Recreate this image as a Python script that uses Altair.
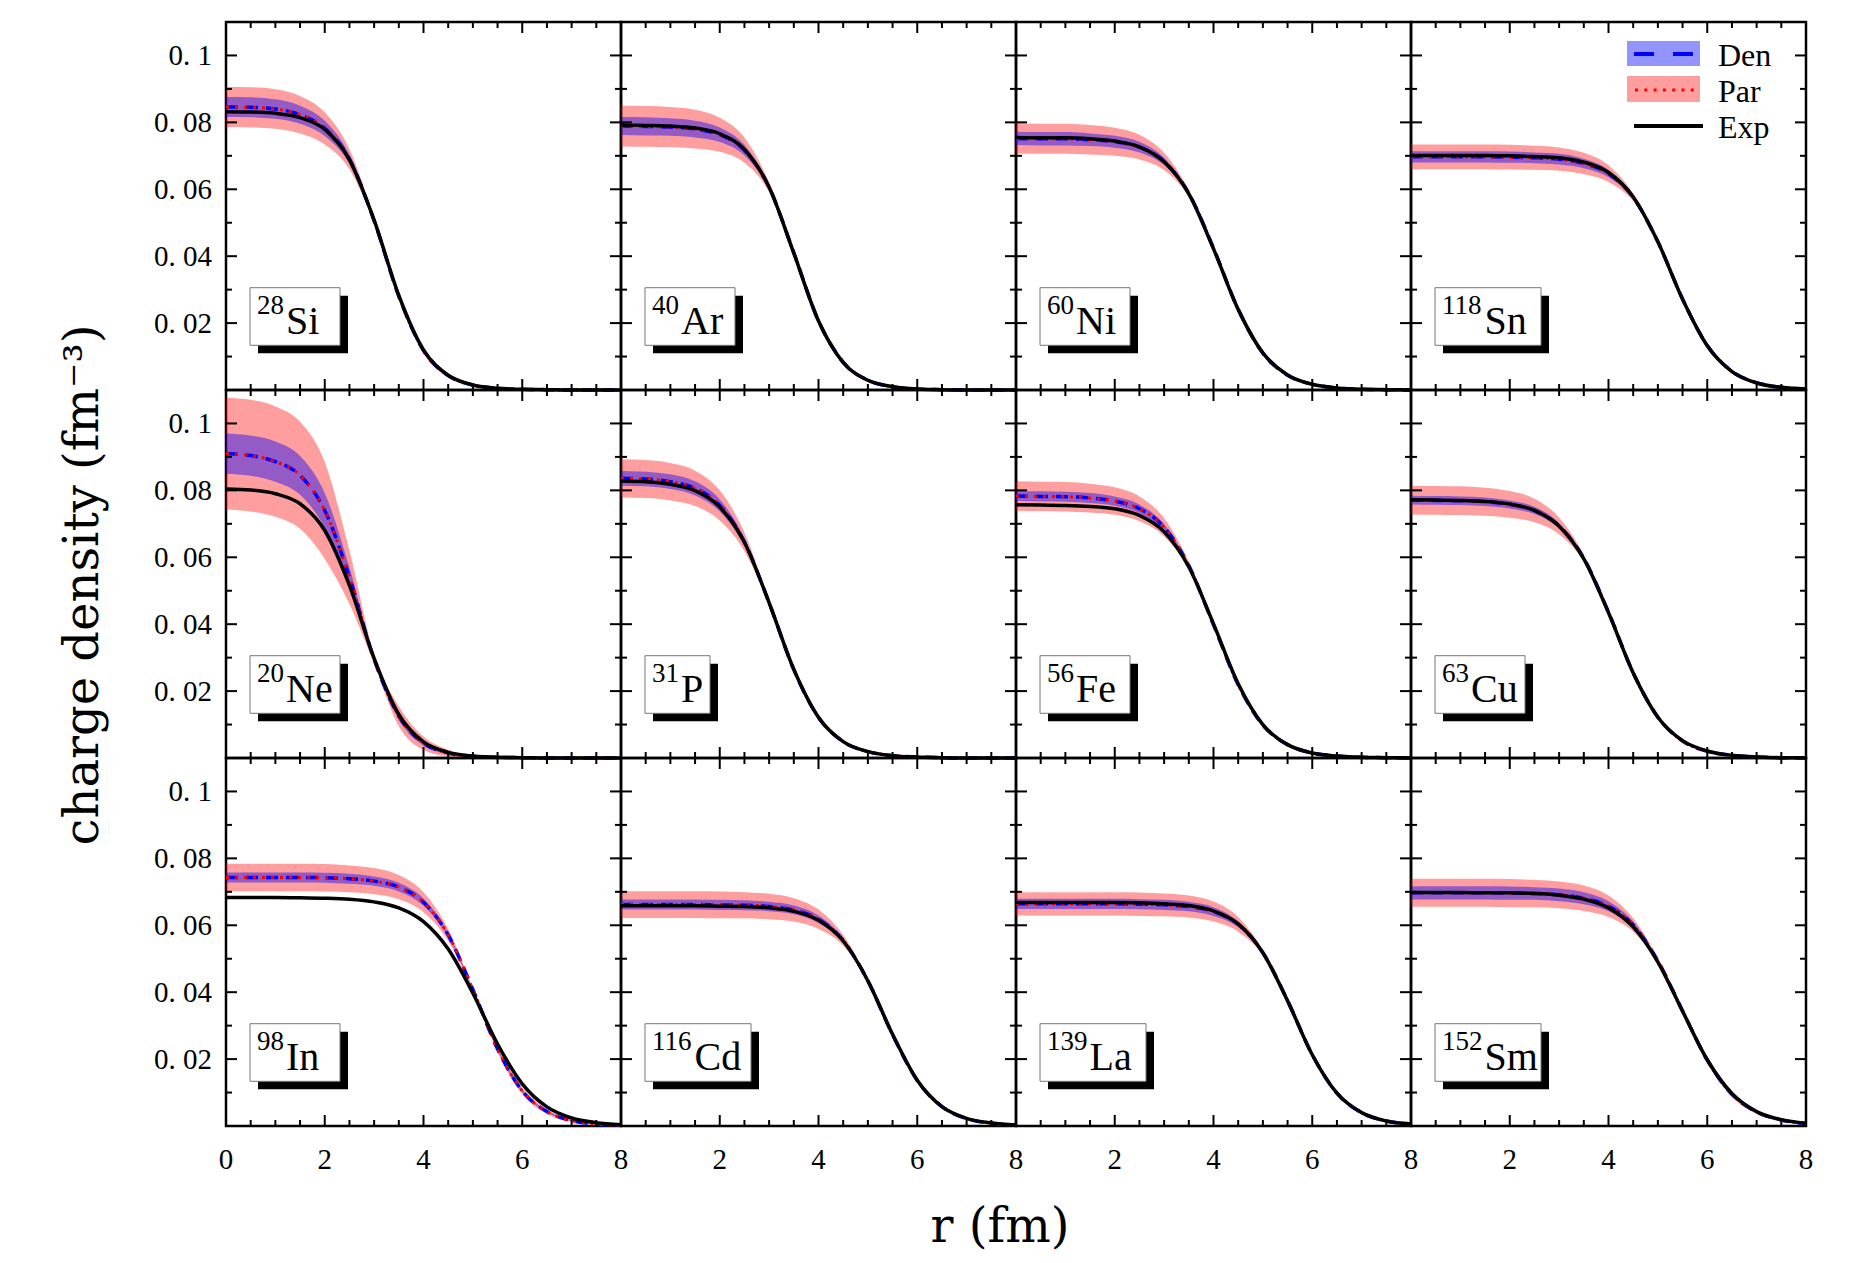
import altair as alt
import pandas as pd

# radial grid (fm)
R = [0, 0.5, 1, 1.5, 2, 2.5, 3, 3.5, 4, 4.5, 5, 5.5, 6, 6.5, 7, 7.5, 8]

# ---- 28Si
exp_si = [0.0832,0.0831,0.0827,0.0814,0.0779,0.0688,0.0508,0.0283,0.0120,0.0044,0.0015,0.0005,0.0002,0.0001,0,0,0]
mod_si = [0.0846,0.0845,0.0840,0.0823,0.0782,0.0690,0.0506,0.0280,0.0118,0.0043,0.0015,0.0005,0.0002,0.0001,0,0,0]
par_err_si = [0.0060,0.0060,0.0059,0.0056,0.0048,0.0030,0.0008,0.0010,0.0010,0.0006,0.0003,0.0001,0,0,0,0,0]
den_err_si = [0.0030,0.0030,0.0029,0.0027,0.0023,0.0014,0.0004,0.0005,0.0005,0.0003,0.0001,0,0,0,0,0,0]
# ---- 40Ar
exp_ar = [0.0792,0.0791,0.0789,0.0783,0.0766,0.0719,0.0606,0.0409,0.0206,0.0082,0.0029,0.0010,0.0003,0.0001,0,0,0]
mod_ar = [0.0789,0.0788,0.0786,0.0780,0.0763,0.0717,0.0606,0.0410,0.0207,0.0083,0.0029,0.0010,0.0003,0.0001,0,0,0]
par_err_ar = [0.0061,0.0061,0.0060,0.0058,0.0051,0.0038,0.0015,0.0008,0.0010,0.0007,0.0004,0.0002,0.0001,0,0,0,0]
den_err_ar = [0.0027,0.0027,0.0026,0.0025,0.0022,0.0016,0.0006,0.0003,0.0004,0.0003,0.0002,0.0001,0,0,0,0,0]
# ---- 60Ni
exp_ni = [0.0755,0.0754,0.0754,0.0751,0.0744,0.0727,0.0682,0.0586,0.0422,0.0241,0.0111,0.0045,0.0017,0.0006,0.0002,0.0001,0]
mod_ni = [0.0752,0.0751,0.0751,0.0748,0.0742,0.0726,0.0683,0.0588,0.0424,0.0241,0.0110,0.0044,0.0017,0.0006,0.0002,0.0001,0]
par_err_ni = [0.0045,0.0045,0.0045,0.0044,0.0042,0.0037,0.0026,0.0010,0.0006,0.0008,0.0006,0.0003,0.0001,0,0,0,0]
den_err_ni = [0.0020,0.0020,0.0020,0.0019,0.0018,0.0016,0.0011,0.0004,0.0003,0.0004,0.0003,0.0001,0,0,0,0,0]
# ---- 118Sn
exp_sn = [0.0701,0.0701,0.0701,0.0701,0.0700,0.0698,0.0694,0.0681,0.0650,0.0577,0.0443,0.0271,0.0132,0.0055,0.0021,0.0008,0.0003]
mod_sn = [0.0697,0.0697,0.0697,0.0697,0.0696,0.0694,0.0690,0.0677,0.0647,0.0576,0.0443,0.0272,0.0133,0.0056,0.0022,0.0008,0.0003]
par_err_sn = [0.0037,0.0037,0.0037,0.0037,0.0037,0.0036,0.0035,0.0032,0.0025,0.0012,0.0005,0.0008,0.0008,0.0005,0.0003,0.0001,0.0001]
den_err_sn = [0.0017,0.0017,0.0017,0.0017,0.0017,0.0016,0.0016,0.0014,0.0011,0.0005,0.0002,0.0003,0.0003,0.0002,0.0001,0,0]
# ---- 20Ne
exp_ne = [0.0804,0.0801,0.0790,0.0760,0.0680,0.0516,0.0298,0.0130,0.0048,0.0017,0.0006,0.0002,0.0001,0,0,0,0]
mod_ne = [0.0910,0.0904,0.0886,0.0845,0.0740,0.0540,0.0295,0.0125,0.0044,0.0015,0.0005,0.0002,0.0001,0,0,0,0]
par_err_ne = [0.0167,0.0167,0.0165,0.0160,0.0145,0.0080,0.0015,0.0030,0.0020,0.0010,0.0004,0.0002,0.0001,0,0,0,0]
den_err_ne = [0.0060,0.0060,0.0060,0.0058,0.0052,0.0030,0.0006,0.0010,0.0007,0.0004,0.0002,0.0001,0,0,0,0,0]
# ---- 31P
exp_p = [0.0828,0.0826,0.0818,0.0799,0.0750,0.0644,0.0464,0.0265,0.0122,0.0049,0.0019,0.0007,0.0003,0.0001,0,0,0]
mod_p = [0.0836,0.0834,0.0826,0.0806,0.0755,0.0646,0.0464,0.0264,0.0121,0.0049,0.0019,0.0007,0.0003,0.0001,0,0,0]
par_err_p = [0.0057,0.0057,0.0056,0.0053,0.0045,0.0028,0.0006,0.0010,0.0009,0.0005,0.0003,0.0001,0,0,0,0,0]
den_err_p = [0.0022,0.0022,0.0022,0.0021,0.0018,0.0011,0.0003,0.0004,0.0004,0.0002,0.0001,0,0,0,0,0,0]
# ---- 56Fe
exp_fe = [0.0757,0.0756,0.0755,0.0752,0.0745,0.0725,0.0676,0.0571,0.0401,0.0222,0.0100,0.0040,0.0015,0.0006,0.0002,0.0001,0]
mod_fe = [0.0783,0.0782,0.0781,0.0777,0.0768,0.0745,0.0690,0.0575,0.0398,0.0219,0.0098,0.0040,0.0015,0.0006,0.0002,0.0001,0]
par_err_fe = [0.0044,0.0044,0.0044,0.0043,0.0041,0.0037,0.0027,0.0012,0.0005,0.0007,0.0005,0.0003,0.0001,0,0,0,0]
den_err_fe = [0.0015,0.0015,0.0015,0.0015,0.0014,0.0013,0.0009,0.0004,0.0002,0.0003,0.0002,0.0001,0,0,0,0,0]
# ---- 63Cu
exp_cu = [0.0772,0.0771,0.0770,0.0767,0.0759,0.0740,0.0693,0.0595,0.0434,0.0254,0.0122,0.0052,0.0021,0.0008,0.0003,0.0001,0.0001]
mod_cu = [0.0771,0.0770,0.0769,0.0766,0.0758,0.0740,0.0694,0.0597,0.0436,0.0255,0.0122,0.0051,0.0020,0.0008,0.0003,0.0001,0]
par_err_cu = [0.0043,0.0043,0.0043,0.0042,0.0040,0.0035,0.0025,0.0010,0.0005,0.0007,0.0005,0.0003,0.0001,0,0,0,0]
den_err_cu = [0.0013,0.0013,0.0013,0.0013,0.0012,0.0011,0.0008,0.0003,0.0002,0.0002,0.0002,0.0001,0,0,0,0,0]
# ---- 98In
exp_in = [0.0683,0.0683,0.0683,0.0682,0.0681,0.0678,0.0670,0.0652,0.0611,0.0529,0.0397,0.0245,0.0126,0.0057,0.0024,0.0010,0.0004]
mod_in = [0.0743,0.0743,0.0743,0.0743,0.0742,0.0739,0.0732,0.0714,0.0669,0.0571,0.0408,0.0230,0.0105,0.0043,0.0016,0.0006,0.0002]
par_err_in = [0.0041,0.0041,0.0041,0.0041,0.0041,0.0040,0.0039,0.0036,0.0030,0.0018,0.0006,0.0010,0.0010,0.0007,0.0004,0.0002,0.0001]
den_err_in = [0.0015,0.0015,0.0015,0.0015,0.0015,0.0015,0.0014,0.0013,0.0011,0.0007,0.0002,0.0004,0.0004,0.0003,0.0001,0.0001,0]
# ---- 116Cd
exp_cd = [0.0658,0.0658,0.0658,0.0658,0.0657,0.0656,0.0652,0.0642,0.0615,0.0553,0.0434,0.0274,0.0137,0.0058,0.0023,0.0009,0.0003]
mod_cd = [0.0662,0.0662,0.0662,0.0662,0.0661,0.0660,0.0656,0.0646,0.0618,0.0555,0.0434,0.0273,0.0136,0.0058,0.0022,0.0008,0.0003]
par_err_cd = [0.0040,0.0040,0.0040,0.0040,0.0040,0.0039,0.0038,0.0035,0.0029,0.0016,0.0005,0.0008,0.0008,0.0005,0.0003,0.0001,0.0001]
den_err_cd = [0.0015,0.0015,0.0015,0.0015,0.0015,0.0015,0.0014,0.0013,0.0011,0.0006,0.0002,0.0003,0.0003,0.0002,0.0001,0,0]
# ---- 139La
exp_la = [0.0668,0.0668,0.0668,0.0668,0.0668,0.0667,0.0664,0.0659,0.0643,0.0604,0.0518,0.0374,0.0213,0.0098,0.0040,0.0015,0.0006]
mod_la = [0.0664,0.0664,0.0664,0.0664,0.0664,0.0663,0.0661,0.0656,0.0641,0.0603,0.0518,0.0375,0.0213,0.0098,0.0040,0.0015,0.0006]
par_err_la = [0.0035,0.0035,0.0035,0.0035,0.0035,0.0035,0.0034,0.0033,0.0030,0.0022,0.0008,0.0006,0.0008,0.0006,0.0003,0.0001,0.0001]
den_err_la = [0.0015,0.0015,0.0015,0.0015,0.0015,0.0015,0.0015,0.0014,0.0013,0.0009,0.0003,0.0002,0.0003,0.0002,0.0001,0,0]
# ---- 152Sm
exp_sm = [0.0698,0.0698,0.0698,0.0697,0.0697,0.0695,0.0690,0.0678,0.0652,0.0595,0.0490,0.0343,0.0198,0.0097,0.0043,0.0019,0.0008]
mod_sm = [0.0697,0.0697,0.0697,0.0697,0.0696,0.0695,0.0691,0.0681,0.0657,0.0601,0.0494,0.0344,0.0197,0.0095,0.0042,0.0018,0.0007]
par_err_sm = [0.0042,0.0042,0.0042,0.0042,0.0042,0.0041,0.0040,0.0038,0.0032,0.0020,0.0008,0.0008,0.0010,0.0008,0.0005,0.0003,0.0002]
den_err_sm = [0.0020,0.0020,0.0020,0.0020,0.0020,0.0019,0.0019,0.0018,0.0015,0.0010,0.0004,0.0004,0.0005,0.0004,0.0002,0.0001,0.0001]

MASS = ["28", "40", "60", "118", "20", "31", "56", "63", "98", "116", "139", "152"]
ELEM = ["Si", "Ar", "Ni", "Sn", "Ne", "P", "Fe", "Cu", "In", "Cd", "La", "Sm"]
EXPS = [exp_si, exp_ar, exp_ni, exp_sn, exp_ne, exp_p, exp_fe, exp_cu, exp_in, exp_cd, exp_la, exp_sm]
MODS = [mod_si, mod_ar, mod_ni, mod_sn, mod_ne, mod_p, mod_fe, mod_cu, mod_in, mod_cd, mod_la, mod_sm]
PERR = [par_err_si, par_err_ar, par_err_ni, par_err_sn, par_err_ne, par_err_p, par_err_fe, par_err_cu,
        par_err_in, par_err_cd, par_err_la, par_err_sm]
DERR = [den_err_si, den_err_ar, den_err_ni, den_err_sn, den_err_ne, den_err_p, den_err_fe, den_err_cu,
        den_err_in, den_err_cd, den_err_la, den_err_sm]

Y_MAJOR = [0.02, 0.04, 0.06, 0.08, 0.10]
Y_MINOR = [0.01, 0.03, 0.05, 0.07, 0.09]
X_MAJOR = [2, 4, 6]
X_MINOR = [0.5, 1, 1.5, 2.5, 3, 3.5, 4.5, 5, 5.5, 6.5, 7, 7.5]
X_LABELS = [0, 2, 4, 6, 8]
Y_TITLE = "charge density (fm\u207b\u00b3)"
X_TITLE = "r (fm)"

W, H = 395, 368
XMAX, YMAX = 8.0, 0.11
FONT = "Liberation Serif"
TFONT = "DejaVu Serif"
MAJ, MIN = 11, 6

xs = alt.Scale(domain=[0, XMAX], nice=False, zero=False)
ys = alt.Scale(domain=[0, YMAX], nice=False, zero=False)


def ticks_layers():
    layers = []
    for vals, ln in ((Y_MAJOR, MAJ), (Y_MINOR, MIN)):
        d = pd.DataFrame({"v": vals})
        yy = alt.Y("v:Q", scale=ys, axis=None)
        layers.append(alt.Chart(d).mark_rule(color="black", strokeWidth=2).encode(
            x=alt.value(0), x2=alt.value(ln), y=yy))
        layers.append(alt.Chart(d).mark_rule(color="black", strokeWidth=2).encode(
            x=alt.value(W - ln), x2=alt.value(W), y=yy))
    for vals, ln in ((X_MAJOR, MAJ), (X_MINOR, MIN)):
        d = pd.DataFrame({"v": vals})
        xx = alt.X("v:Q", scale=xs, axis=None)
        layers.append(alt.Chart(d).mark_rule(color="black", strokeWidth=2).encode(
            y=alt.value(H - ln), y2=alt.value(H), x=xx))
        layers.append(alt.Chart(d).mark_rule(color="black", strokeWidth=2).encode(
            y=alt.value(0), y2=alt.value(ln), x=xx))
    return layers


def legend_layers():
    one = pd.DataFrame({"k": [0]})
    L = []
    L.append(alt.Chart(one).mark_rect(color="#0000ff", opacity=0.42).encode(
        x=alt.value(216), x2=alt.value(289), y=alt.value(19), y2=alt.value(44)))
    L.append(alt.Chart(one).mark_rule(color="#0000ff", strokeWidth=4, strokeDash=[20, 19]).encode(
        x=alt.value(223), x2=alt.value(283), y=alt.value(32)))
    L.append(alt.Chart(one).mark_rect(color="#ff0000", opacity=0.38).encode(
        x=alt.value(216), x2=alt.value(289), y=alt.value(54), y2=alt.value(80)))
    L.append(alt.Chart(one).mark_rule(color="#ff0000", strokeWidth=3, strokeDash=[3, 6.3]).encode(
        x=alt.value(224), x2=alt.value(287), y=alt.value(68)))
    L.append(alt.Chart(one).mark_rule(color="black", strokeWidth=4).encode(
        x=alt.value(223), x2=alt.value(292), y=alt.value(104)))
    for txt, yb in (("Den", 44), ("Par", 80), ("Exp", 116)):
        L.append(alt.Chart(one).mark_text(font=FONT, fontSize=32, align="left", baseline="alphabetic",
                                          color="black").encode(
            x=alt.value(307), y=alt.value(yb), text=alt.value(txt)))
    return L


def ylabel_layer():
    d = pd.DataFrame({"v": Y_MAJOR})
    d["t"] = [("%.2f" % v).rstrip("0").replace(".", ". ") for v in Y_MAJOR]
    return alt.Chart(d).mark_text(font=FONT, fontSize=29, align="right", baseline="middle",
                                  color="black", dy=1).encode(
        x=alt.value(-14), y=alt.Y("v:Q", scale=ys, axis=None), text="t:N")


def xlabel_layer(col):
    vals = X_LABELS if col == 0 else X_LABELS[1:]
    d = pd.DataFrame({"v": vals, "t": [str(v) for v in vals]})
    return alt.Chart(d).mark_text(font=FONT, fontSize=29, align="center", baseline="alphabetic",
                                  color="black").encode(
        x=alt.X("v:Q", scale=xs, axis=None), y=alt.value(H + 43), text="t:N")


def panel(i):
    row, col = divmod(i, 4)
    mass, el = MASS[i], ELEM[i]
    exp, mod, perr, derr = EXPS[i], MODS[i], PERR[i], DERR[i]
    df = pd.DataFrame({
        "r": R, "exp": exp, "mod": mod,
        "plo": [max(0.0, m - e) for m, e in zip(mod, perr)],
        "phi": [m + e for m, e in zip(mod, perr)],
        "dlo": [max(0.0, m - e) for m, e in zip(mod, derr)],
        "dhi": [m + e for m, e in zip(mod, derr)],
    })

    base = alt.Chart(df)
    xr = alt.X("r:Q", scale=xs, axis=None)
    layers = [
        base.mark_area(color="#ff0000", opacity=0.38, interpolate="monotone").encode(
            x=xr, y=alt.Y("plo:Q", scale=ys, axis=None), y2="phi:Q"),
        base.mark_area(color="#0000ff", opacity=0.42, interpolate="monotone").encode(
            x=xr, y=alt.Y("dlo:Q", scale=ys, axis=None), y2="dhi:Q"),
        base.mark_line(color="#0000ff", strokeWidth=3.5, strokeDash=[12, 8], interpolate="monotone").encode(
            x=xr, y=alt.Y("mod:Q", scale=ys, axis=None)),
        base.mark_line(color="#ff0000", strokeWidth=3, strokeDash=[3, 6], interpolate="monotone").encode(
            x=xr, y=alt.Y("mod:Q", scale=ys, axis=None)),
        base.mark_line(color="black", strokeWidth=3.5, interpolate="monotone").encode(
            x=xr, y=alt.Y("exp:Q", scale=ys, axis=None)),
    ]

    # nuclide label box with drop shadow (positions in px converted to data units)
    px_x, px_y = XMAX / W, YMAX / H
    bw = 16 * len(mass) + 25 * len(el) + 8
    left, top, bot, sh = 24, 265.7, 323.3, 8
    boxes = pd.DataFrame({
        "x0": [(left + sh) * px_x, left * px_x],
        "x1": [(left + bw + sh) * px_x, (left + bw) * px_x],
        "y0": [(H - bot - sh) * px_y, (H - bot) * px_y],
        "y1": [(H - top - sh) * px_y, (H - top) * px_y],
        "kind": ["shadow", "box"],
    })
    layers.append(alt.Chart(boxes[boxes.kind == "shadow"]).mark_rect(color="black").encode(
        x=alt.X("x0:Q", scale=xs, axis=None), x2="x1:Q",
        y=alt.Y("y0:Q", scale=ys, axis=None), y2="y1:Q"))
    layers.append(alt.Chart(boxes[boxes.kind == "box"]).mark_rect(
        fill="white", stroke="#777777", strokeWidth=1).encode(
        x=alt.X("x0:Q", scale=xs, axis=None), x2="x1:Q",
        y=alt.Y("y0:Q", scale=ys, axis=None), y2="y1:Q"))
    lab = pd.DataFrame({
        "x": [(left + 7) * px_x, (left + 7 + 13.5 * len(mass) + 2) * px_x],
        "y": [(H - 292) * px_y, (H - 311.7) * px_y],
        "t": [mass, el],
        "s": ["sup", "el"],
    })
    layers.append(alt.Chart(lab[lab.s == "sup"]).mark_text(
        font=FONT, fontSize=27, align="left", baseline="alphabetic", color="black").encode(
        x=alt.X("x:Q", scale=xs, axis=None), y=alt.Y("y:Q", scale=ys, axis=None), text="t:N"))
    layers.append(alt.Chart(lab[lab.s == "el"]).mark_text(
        font=FONT, fontSize=40, align="left", baseline="alphabetic", color="black").encode(
        x=alt.X("x:Q", scale=xs, axis=None), y=alt.Y("y:Q", scale=ys, axis=None), text="t:N"))

    layers += ticks_layers()
    if col == 0:
        layers.append(ylabel_layer())
    if row == 2:
        layers.append(xlabel_layer(col))
    one = pd.DataFrame({"k": [0]})
    if row == 1 and col == 0:
        layers.append(alt.Chart(one).mark_text(
            font=TFONT, fontSize=48, angle=270, align="center", baseline="alphabetic",
            color="black").encode(x=alt.value(-128), y=alt.value(195), text=alt.value(Y_TITLE)))
    if row == 2 and col == 1:
        layers.append(alt.Chart(one).mark_text(
            font=TFONT, fontSize=48, align="center", baseline="alphabetic",
            color="black").encode(x=alt.value(379), y=alt.value(H + 116), text=alt.value(X_TITLE)))
    if i == 3:
        layers += legend_layers()
    return alt.layer(*layers).properties(width=W, height=H)


panels = [panel(i) for i in range(12)]
chart = alt.concat(*panels, columns=4, spacing=0, bounds="flush").properties(
    padding={"left": 58, "right": 50, "top": 19, "bottom": 8},
    background="white",
).configure_view(stroke="black", strokeWidth=2.5)

chart.save("out.html", embed_options={"renderer": "svg", "actions": False})
